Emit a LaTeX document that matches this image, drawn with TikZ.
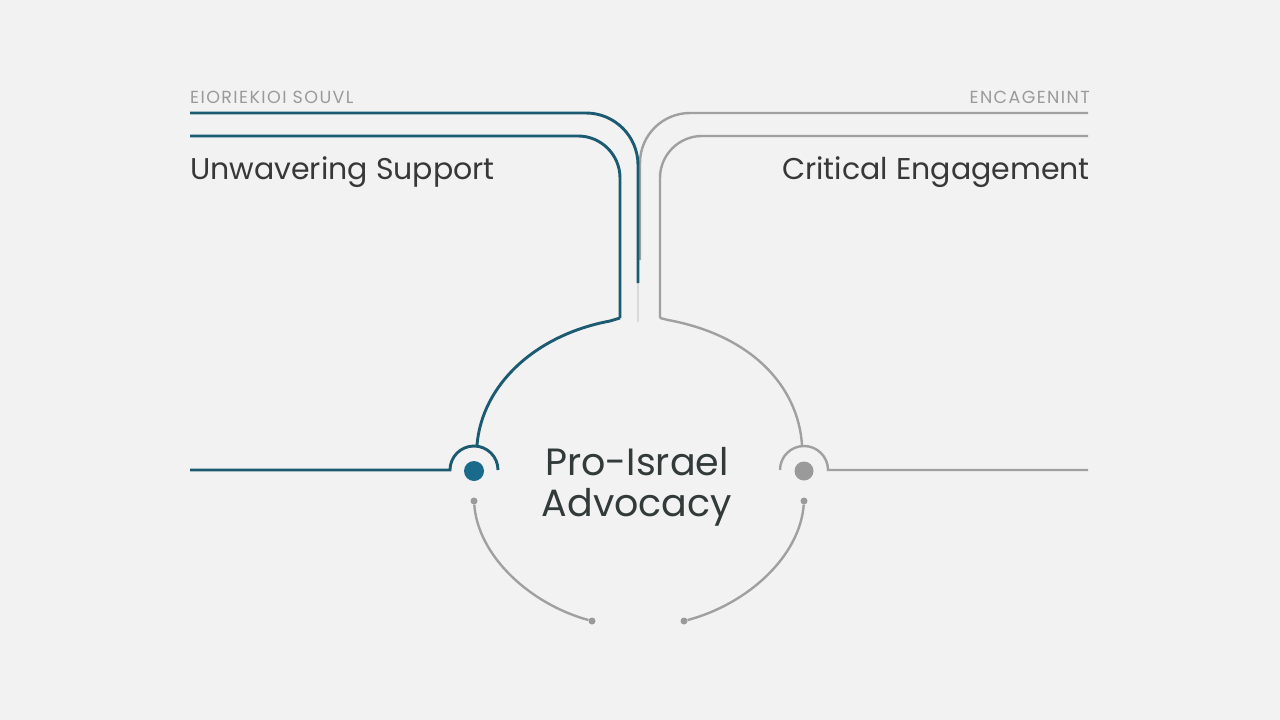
\documentclass[tikz,border=0pt]{standalone}
\usepackage{fontspec}
\setmainfont{Poppins}
\definecolor{bg}{HTML}{F2F2F2}
\definecolor{teal}{HTML}{1B5A70}
\definecolor{tealdot}{HTML}{1A6A8C}
\definecolor{lgray}{HTML}{A0A0A0}
\definecolor{dgray}{HTML}{9A9A9A}
\definecolor{txt}{HTML}{383838}
\definecolor{ctxt}{HTML}{323A3A}
\definecolor{faint}{HTML}{DADADA}
\tikzset{
  tline/.style={draw=teal, line width=2.9pt},
  gline/.style={draw=lgray, line width=2.4pt},
  bigdot/.style={circle, inner sep=0pt, minimum size=#1},
  smalldot/.style={circle, fill=dgray, inner sep=0pt, minimum size=7pt},
  biglabel/.style={text=txt, font=\fontsize{30}{36}\selectfont, inner sep=0pt},
  smalllabel/.style={text=dgray, font=\addfontfeatures{LetterSpace=8}\fontsize{17.5}{18}\selectfont, inner sep=0pt},
  centerlabel/.style={text=ctxt, font=\fontsize{38}{41}\selectfont, inner sep=0pt, align=center},
}
\begin{document}
\begin{tikzpicture}[x=1pt, y=-1pt]
\fill[bg] (0,0) rectangle (1280,720);
\useasboundingbox (0,0) rectangle (1280,720);

% labels
\node[smalllabel, anchor=base west] (lblL) at (190,103) {EIORIEKIOI SOUVL};
\node[smalllabel, anchor=base east] (lblR) at (1090,103) {ENCAGENINT};
\node[biglabel, anchor=base west] (support) at (190,179) {Unwavering Support};
\node[biglabel, anchor=base east] (critical) at (1090,179) {Critical Engagement};
\node[centerlabel] (center) at (637,487) {Pro-Israel\\Advocacy};

% coordinates
\coordinate (tOutS) at (190,113);
\coordinate (tOutC) at (638,113);
\coordinate (tOutE) at (638,283);
\coordinate (tFaint) at (638,322);
\coordinate (tInS) at (190,136);
\coordinate (tInC) at (620,136);
\coordinate (tInE) at (620,318);
\coordinate (gOutS) at (1088,113);
\coordinate (gOutC) at (640,113);
\coordinate (gOutE) at (640,260);
\coordinate (gInS) at (1088,136);
\coordinate (gInC) at (660,136);
\coordinate (gInE) at (660,318);
\coordinate (lTop) at (477,445);
\coordinate (rTop) at (802,445);
\coordinate (lLineS) at (190,470);
\coordinate (rLineE) at (1088,470);

% nodes (dots)
\node[bigdot=20pt, fill=tealdot] (ldot) at (474,471) {};
\node[bigdot=19pt, fill=dgray] (rdot) at (804,471) {};
\node[smalldot] (lA) at (474,501) {};
\node[smalldot] (lB) at (592,621) {};
\node[smalldot] (rA) at (804,501) {};
\node[smalldot] (rB) at (684,621) {};

% faint continuation
\draw[draw=faint, line width=2pt] (tOutE) -- (tFaint);

% gray lines
\draw[gline, rounded corners=50pt] (gOutS) -- (gOutC) -- (gOutE);
\draw[gline, rounded corners=42pt] (gInS) -- (gInC) -- (gInE);
\draw[gline] (gInE) -- (668,320) .. controls (750,335) and (798,385) .. (rTop);
\draw[gline] (rLineE) -- (828,470) arc[start angle=0, end angle=180, radius=24pt];
\draw[gline] (rA) .. controls (800,556) and (748,604) .. (rB);
\draw[gline] (lA) .. controls (478,556) and (530,604) .. (lB);

% teal lines
\draw[tline, rounded corners=52pt] (tOutS) -- (tOutC) -- (tOutE);
\draw[tline, rounded corners=42pt] (tInS) -- (tInC) -- (tInE);
\draw[tline] (tInE) -- (610,321) .. controls (535,335) and (482,385) .. (lTop);
\draw[tline] (lLineS) -- (450,470) arc[start angle=180, end angle=0, radius=24pt];
\end{tikzpicture}
\end{document}
